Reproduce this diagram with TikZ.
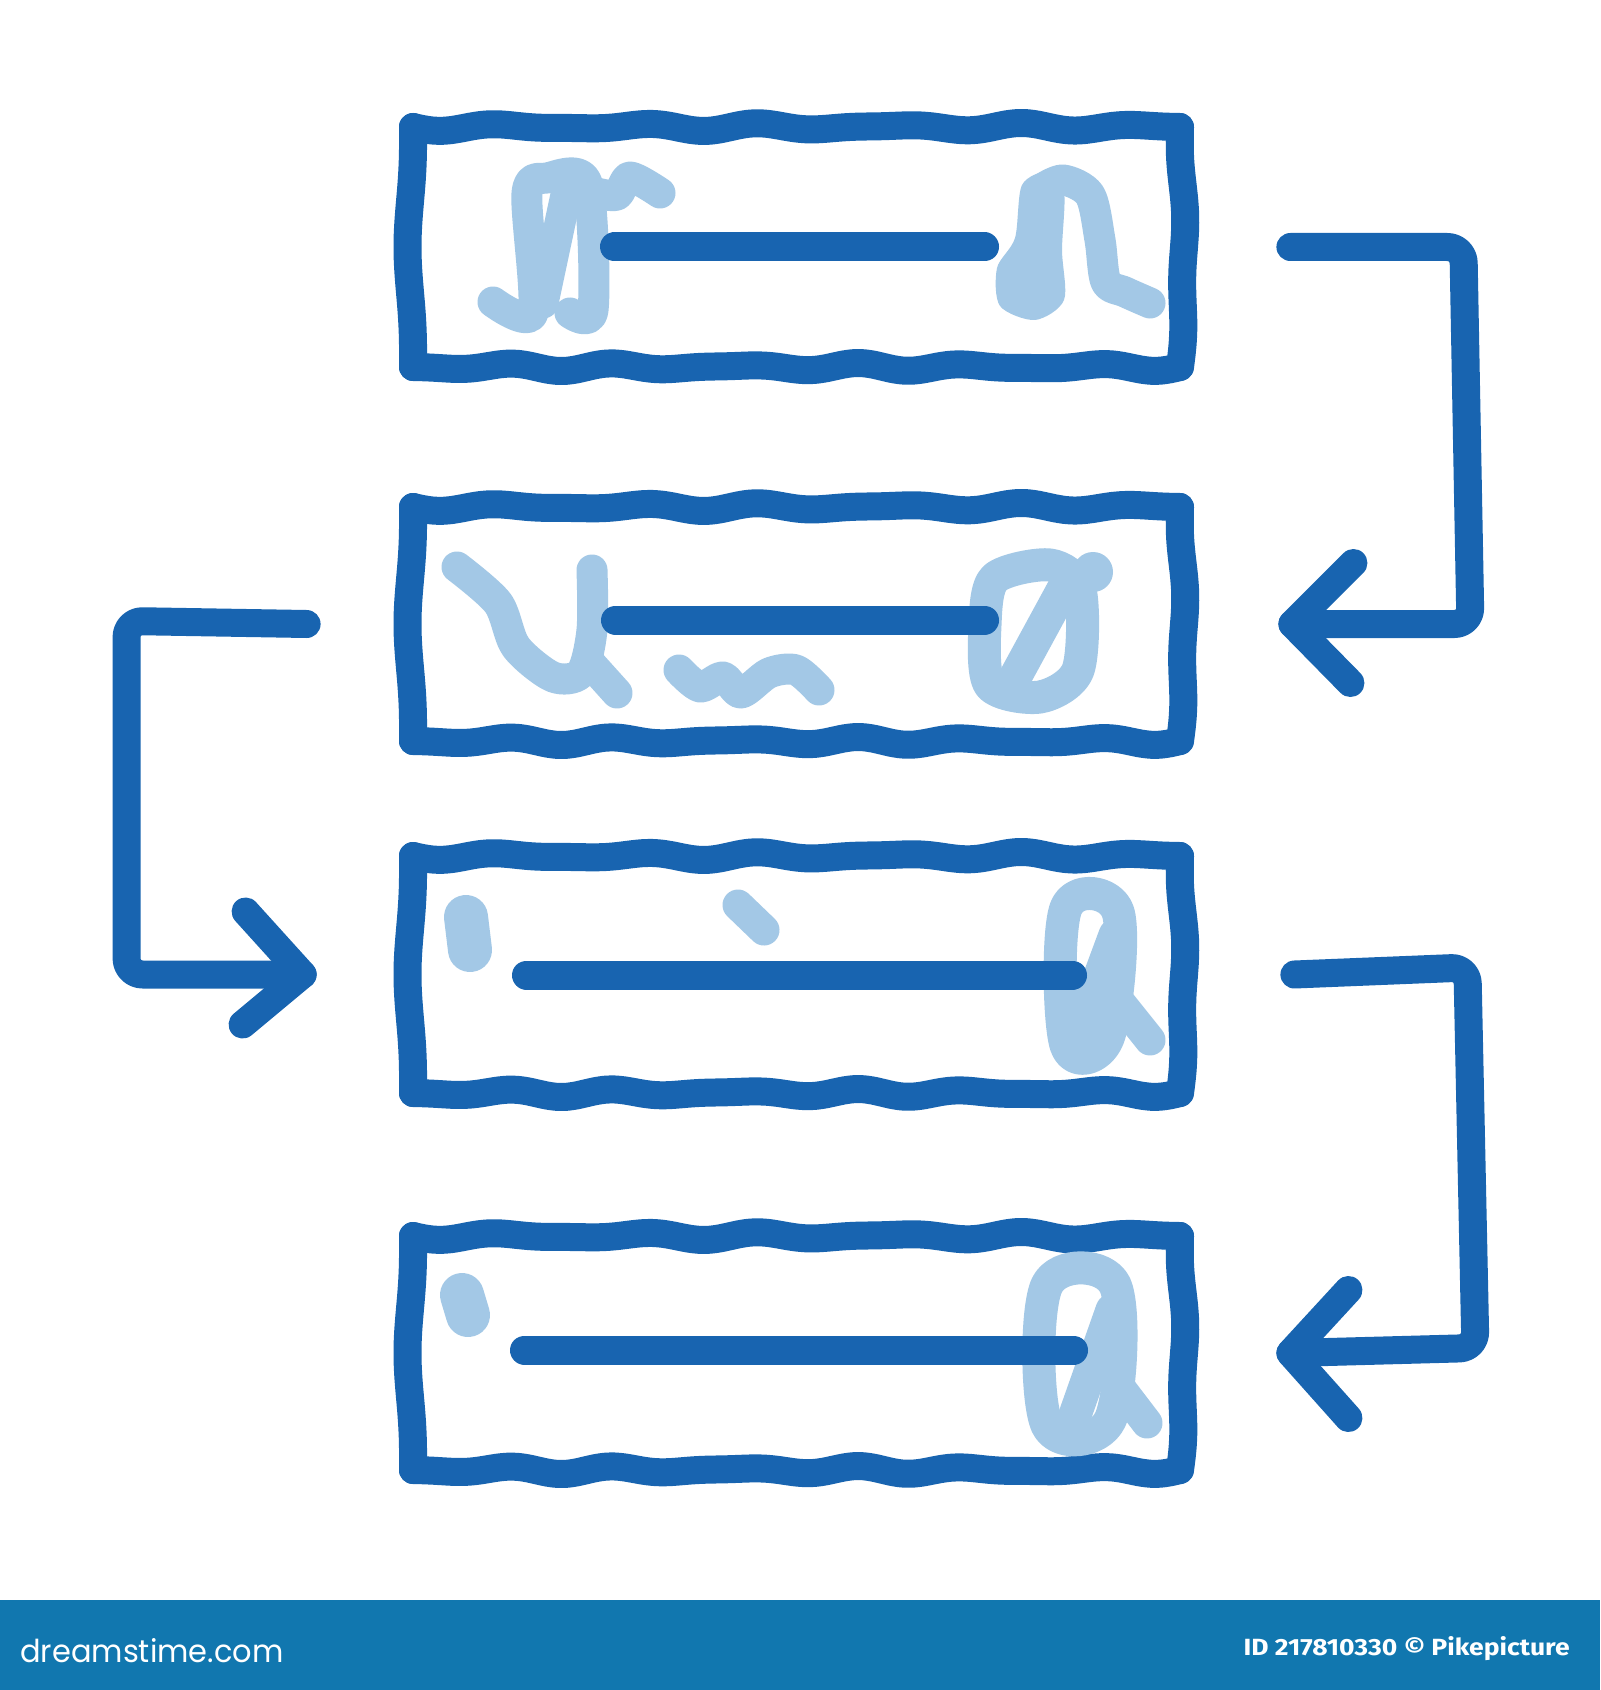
\documentclass[tikz,border=0pt]{standalone}
\usepackage{graphicx}
\usepackage{fontspec}
\usetikzlibrary{calc}
\definecolor{ink}{HTML}{1864B0}
\definecolor{pale}{HTML}{A3C8E6}
\definecolor{band}{HTML}{1177AF}
\newfontfamily\brandfont{Poppins}
\newfontfamily\idfont{Fira Sans}
% wavy hand-drawn outline: left, top, right, bottom (px)
\newcommand\wbox[4]{%
  \draw[boxline] plot[smooth, domain=0:1, samples=81]
    ({#1+(#3-#1)*\x},{#2+2.5*sin(2160*\x)+1.5*sin(3060*\x)});
  \draw[boxline] plot[smooth, domain=0:1, samples=81]
    ({#1+(#3-#1)*\x},{#4+2.5*sin(2340*\x)-1.5*sin(3240*\x)});
  \draw[boxline] plot[smooth, domain=0:1, samples=21]
    ({#1-4*sin(180*\x)+1.5*sin(540*\x)},{#2+(#4-#2)*\x});
  \draw[boxline] plot[smooth, domain=0:1, samples=21]
    ({#3+4*sin(180*\x)-1.5*sin(720*\x)},{#2+(#4-#2)*\x});
}
\begin{document}
\begin{tikzpicture}[x=0.5pt,y=-0.5pt,
  boxnode/.style={draw=none, inner sep=0pt, minimum width=383.5pt},
  boxline/.style={draw=ink, line width=14pt, line cap=round, line join=round},
  bar/.style={draw=ink, line width=14.5pt, line cap=round},
  conn/.style={draw=ink, line width=14pt, line cap=round, line join=round, rounded corners=8pt},
  tip/.style={draw=ink, line width=14pt, line cap=round, line join=round},
  scrib/.style={draw=pale, line width=15.5pt, line cap=round, line join=round}]
\useasboundingbox (0,0) rectangle (1600,1690);
\fill[white] (0,0) rectangle (1600,1600);
\fill[band] (0,1600) rectangle (1600,1690);

% boxes (named nodes + wavy outlines)
\node[boxnode, minimum height=120pt] (b1) at (796.5,247) {};
\node[boxnode, minimum height=117pt] (b2) at (796.5,624) {};
\node[boxnode, minimum height=118.5pt] (b3) at (796.5,974.5) {};
\node[boxnode, minimum height=117pt] (b4) at (796.5,1353) {};
\wbox{413}{127}{1180}{367}
\wbox{413}{507}{1180}{741}
\wbox{413}{856}{1180}{1093}
\wbox{413}{1236}{1180}{1470}

% light scribbles
\draw[scrib] plot[smooth, tension=0.5] coordinates {(493,302) (533,313) (527,193) (547,178) (587,183) (593,310) (570,313)};
\draw[scrib] (567,190) -- (543,303);
\draw[scrib] plot[smooth] coordinates {(597,193) (617,195) (630,177) (660,193)};
\fill[pale] plot[smooth cycle] coordinates {(1022,185) (1048,172) (1064,192) (1062,250) (1064,300) (1035,320) (1000,306) (997,268) (1015,238)};
\draw[scrib] plot[smooth] coordinates {(1040,190) (1063,180) (1090,195) (1100,240) (1106,282) (1125,292) (1150,303)};

\draw[scrib] plot[smooth] coordinates {(457,567) (498,603) (516,647) (553,677) (581,673) (592,630) (592,570)};
\draw[scrib] (590,663) -- (617,693);
\draw[scrib] plot[smooth] coordinates {(679,670) (700,687) (723,677) (741,693) (769,673) (796,670) (819,690)};
\draw[scrib, line width=16.5pt] plot[smooth cycle] coordinates {(995,578) (1050,565) (1080,590) (1078,670) (1040,697) (990,685) (985,625)};
\draw[scrib, line width=16.5pt] (1068,580) -- (1012,683);
\fill[pale] (1093,572) circle (20);

\draw[scrib, line width=22pt] (466,917) -- (470,950);
\draw[scrib] (738,905) -- (764,930);
\draw[scrib, line width=16.5pt] plot[smooth cycle, tension=0.6] coordinates {(1066,908) (1118,912) (1108,1038) (1066,1045)};
\draw[scrib, line width=16.5pt] (1115,935) -- (1078,1035);
\draw[scrib] (1118,1000) -- (1150,1040);

\draw[scrib, line width=22pt] (462,1295) -- (468,1315);
\draw[scrib, line width=16.5pt] plot[smooth cycle, tension=0.6] coordinates {(1047,1285) (1115,1285) (1110,1420) (1047,1425)};
\draw[scrib, line width=16.5pt] (1112,1310) -- (1075,1415);
\draw[scrib] (1118,1385) -- (1147,1423);

% inner bars
\draw[bar] ($(b1.center)+(-182,0)$) -- ($(b1.center)+(188,0)$);
\draw[bar] ($(b2.center)+(-181,-4)$) -- ($(b2.center)+(188,-4)$);
\draw[bar] ($(b3.center)+(-270,0.5)$) -- ($(b3.center)+(276,0.5)$);
\draw[bar] ($(b4.center)+(-272,-3)$) -- ($(b4.center)+(277,-3)$);

% connectors
\coordinate (s1) at ($(b1.east)+(110,0)$);
\coordinate (e1) at ($(b2.east)+(112,0)$);
\draw[conn] (s1) -- ($(s1)+(173,0)$) -- ($(e1)+(178,0)$) -- (e1);
\draw[tip] ($(e1)+(61,-61)$) -- (e1) -- ($(e1)+(58,59)$);

\coordinate (s2) at ($(b2.west)+(-106,0)$);
\coordinate (e2) at ($(b3.west)+(-110,0)$);
\draw[conn] (s2) -- ($(s2)+(-180,-3)$) -- ($(e2)+(-176,0)$) -- (e2);
\draw[tip] ($(e2)+(-57,-63)$) -- (e2) -- ($(e2)+(-60,50)$);

\coordinate (s3) at ($(b3.east)+(114,0)$);
\coordinate (e3) at ($(b4.east)+(110,0)$);
\draw[conn] (s3) -- ($(s3)+(173,-7)$) -- ($(e3)+(185,-5)$) -- (e3);
\draw[tip] ($(e3)+(58,-63)$) -- (e3) -- ($(e3)+(58,65)$);

% banner texts
\node[anchor=base west, text=white, inner sep=0pt] (brand) at (20,1662)
  {\resizebox{131.5pt}{12pt}{\brandfont dreamstime.com}};
\node[anchor=base east, text=white, inner sep=0pt] (credit) at (1570,1655)
  {\resizebox{163pt}{9.5pt}{\idfont\bfseries ID 217810330 © Pikepicture}};
\end{tikzpicture}
\end{document}
